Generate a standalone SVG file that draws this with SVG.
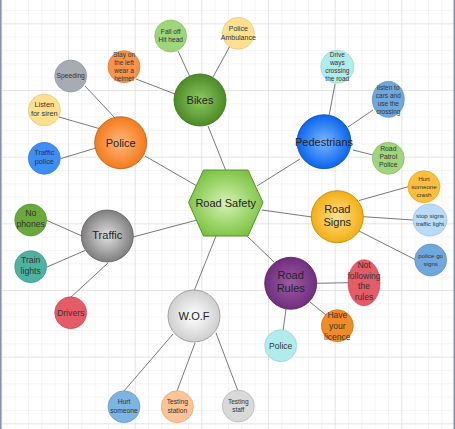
<svg xmlns="http://www.w3.org/2000/svg" width="455" height="429" viewBox="0 0 455 429">
<defs>
<pattern id="gmin" patternUnits="userSpaceOnUse" x="1.333" y="23.333" width="13.333" height="13.333">
<path d="M0 0V13.333M0 0H13.333" stroke="#ececec" stroke-width="1" fill="none"/>
</pattern>
<pattern id="gmaj" patternUnits="userSpaceOnUse" x="1.333" y="23.333" width="66.667" height="66.667">
<path d="M0 0V66.667M0 0H66.667" stroke="#d6d6d6" stroke-width="1" fill="none"/>
</pattern>
<radialGradient id="gHex" cx="50%" cy="50%" r="55%"><stop offset="0" stop-color="#d6f2b4"/><stop offset="1" stop-color="#79c23f"/></radialGradient>
<radialGradient id="gBikes" cx="50%" cy="50%" r="50%"><stop offset="0" stop-color="#8fca62"/><stop offset="1" stop-color="#4c8a27"/></radialGradient>
<radialGradient id="gPolice" cx="50%" cy="50%" r="50%"><stop offset="0" stop-color="#ffb97e"/><stop offset="1" stop-color="#f57a1c"/></radialGradient>
<radialGradient id="gPed" cx="50%" cy="50%" r="50%"><stop offset="0" stop-color="#7ab8ff"/><stop offset="1" stop-color="#0a64ee"/></radialGradient>
<radialGradient id="gSigns" cx="50%" cy="50%" r="50%"><stop offset="0" stop-color="#ffe18a"/><stop offset="1" stop-color="#f3ae12"/></radialGradient>
<radialGradient id="gRules" cx="50%" cy="50%" r="50%"><stop offset="0" stop-color="#9b5aa6"/><stop offset="1" stop-color="#712e7e"/></radialGradient>
<radialGradient id="gTraffic" cx="50%" cy="50%" r="50%"><stop offset="0" stop-color="#e2e2e2"/><stop offset="1" stop-color="#7e7e7e"/></radialGradient>
<radialGradient id="gWof" cx="50%" cy="50%" r="50%"><stop offset="0" stop-color="#ffffff"/><stop offset="1" stop-color="#cfcfcf"/></radialGradient>
</defs>
<style>
.big{font-family:"Liberation Sans",Arial,sans-serif;font-size:11px;fill:#222;text-anchor:middle}
.sm{font-family:"Liberation Sans",Arial,sans-serif;fill:#333;text-anchor:middle}
.edge line{stroke:#555;stroke-width:0.8}
.leaf{stroke-width:0.6}
</style>
<rect width="455" height="429" fill="#ffffff"/>
<rect width="455" height="429" fill="url(#gmin)"/>
<rect width="455" height="429" fill="url(#gmaj)"/>
<rect x="0" y="0" width="1.5" height="429" fill="#8791a8"/>
<rect x="453.5" y="0" width="1.5" height="429" fill="#8791a8"/>

<g id="connectors" class="edge">
<line x1="208" y1="126" x2="226" y2="171"/>
<line x1="257" y1="186" x2="300" y2="159"/>
<line x1="145" y1="156" x2="197" y2="186"/>
<line x1="133" y1="237" x2="197" y2="220"/>
<line x1="216" y1="236" x2="194" y2="291"/>
<line x1="246" y1="235" x2="274" y2="262"/>
<line x1="262" y1="210" x2="312" y2="217"/>
<line x1="136" y1="79" x2="175" y2="94"/>
<line x1="178" y1="51" x2="190" y2="77"/>
<line x1="213" y1="77" x2="230" y2="46"/>
<line x1="85" y1="86" x2="115" y2="118"/>
<line x1="59" y1="117" x2="99" y2="128.5"/>
<line x1="61" y1="158.5" x2="96" y2="148"/>
<line x1="335" y1="84" x2="329" y2="116"/>
<line x1="373" y1="110" x2="348" y2="127"/>
<line x1="353" y1="150" x2="373" y2="155"/>
<line x1="359" y1="200.5" x2="409" y2="186.5"/>
<line x1="363" y1="216.7" x2="413" y2="220"/>
<line x1="359" y1="231" x2="416" y2="260"/>
<line x1="316" y1="283.3" x2="349" y2="282.7"/>
<line x1="310" y1="302" x2="326" y2="315"/>
<line x1="286" y1="309" x2="283" y2="331"/>
<line x1="47" y1="220.5" x2="82" y2="236"/>
<line x1="47" y1="267" x2="85" y2="250.5"/>
<line x1="70" y1="298" x2="108" y2="263"/>
<line x1="124" y1="391" x2="173" y2="334"/>
<line x1="177" y1="391" x2="195" y2="343"/>
<line x1="216" y1="333" x2="238" y2="391"/>
</g>

<g id="road-safety">
<polygon points="188.5,202.5 203.5,170 248,170 263,202.5 248,236 203.5,236" fill="url(#gHex)" stroke="#5b8f33" stroke-width="1" stroke-linejoin="round"/>
<text class="big" x="225.7" y="206.5">Road Safety</text>
</g>

<g id="bikes">
<circle cx="200" cy="100" r="26" fill="url(#gBikes)" stroke="#3d6e1f" stroke-width="0.8"/>
<text class="big" x="200" y="104">Bikes</text>
</g>
<g id="police">
<circle cx="120.7" cy="142.7" r="26" fill="url(#gPolice)" stroke="#b85a12" stroke-width="0.8"/>
<text class="big" x="120.7" y="146.7">Police</text>
</g>
<g id="pedestrians">
<circle cx="324" cy="141.7" r="27" fill="url(#gPed)" stroke="#0a4fba" stroke-width="0.8"/>
<text class="big" x="324" y="145.7">Pedestrians</text>
</g>
<g id="road-signs">
<circle cx="337.3" cy="216.7" r="26" fill="url(#gSigns)" stroke="#b98500" stroke-width="0.8"/>
<text class="big" x="337.3" y="213.3">Road<tspan x="337.3" dy="13">Signs</tspan></text>
</g>
<g id="road-rules">
<circle cx="290.7" cy="283.3" r="26" fill="url(#gRules)" stroke="#4f1d5a" stroke-width="0.8"/>
<text class="big" x="290.7" y="279">Road<tspan x="290.7" dy="13.3">Rules</tspan></text>
</g>
<g id="traffic">
<circle cx="107.3" cy="236" r="26" fill="url(#gTraffic)" stroke="#5e5e5e" stroke-width="0.8"/>
<text class="big" x="107.3" y="239">Traffic</text>
</g>
<g id="wof">
<circle cx="194" cy="316" r="26" fill="url(#gWof)" stroke="#8f8f8f" stroke-width="0.8"/>
<text class="big" x="194" y="319.5">W.O.F</text>
</g>

<g id="stay-left">
<circle class="leaf" cx="124" cy="66.7" r="16" fill="#f8934a" stroke="#d47230"/>
<text class="sm" font-size="6.5" x="124" y="56.6">Stay on<tspan x="124" dy="8.2">the left</tspan><tspan x="124" dy="8.2">wear a</tspan><tspan x="124" dy="8.2">helmet</tspan></text>
</g>
<g id="fall-off">
<circle class="leaf" cx="170.7" cy="36" r="16" fill="#9fd57b" stroke="#7fb35d"/>
<text class="sm" font-size="6.6" x="170.7" y="34.4">Fall off<tspan x="170.7" dy="7.8">Hit head</tspan></text>
</g>
<g id="police-ambulance">
<circle class="leaf" cx="238.3" cy="33.3" r="16" fill="#ffe08f" stroke="#e0bf6a"/>
<text class="sm" font-size="7" x="238.3" y="31">Police<tspan x="238.3" dy="9">Ambulance</tspan></text>
</g>
<g id="speeding">
<circle class="leaf" cx="70.7" cy="76" r="16" fill="#a7abb3" stroke="#8b8f97"/>
<text class="sm" font-size="6.7" x="70.7" y="78.3">Speeding</text>
</g>
<g id="listen-siren">
<circle class="leaf" cx="44.3" cy="110" r="16" fill="#ffe08f" stroke="#e0bf6a"/>
<text class="sm" font-size="7.4" x="44.3" y="107">Listen<tspan x="44.3" dy="9">for siren</tspan></text>
</g>
<g id="traffic-police">
<circle class="leaf" cx="44.3" cy="158.3" r="16" fill="#3d8ef7" stroke="#2a6fd0"/>
<text class="sm" font-size="7.4" x="44.3" y="155.3">Traffic<tspan x="44.3" dy="9">police</tspan></text>
</g>
<g id="drive-ways">
<circle class="leaf" cx="337.3" cy="66.7" r="16.5" fill="#b0ecec" stroke="#8fcaca"/>
<text class="sm" font-size="6.5" x="337.3" y="56.6">Drive<tspan x="337.3" dy="8">ways</tspan><tspan x="337.3" dy="8">crossing</tspan><tspan x="337.3" dy="8">the road</tspan></text>
</g>
<g id="listen-cars">
<ellipse class="leaf" cx="388.3" cy="99.3" rx="16" ry="18" fill="#6fa8dc" stroke="#5087bb"/>
<text class="sm" font-size="6.5" x="388.3" y="89.6">listen to<tspan x="388.3" dy="8">cars and</tspan><tspan x="388.3" dy="8">use the</tspan><tspan x="388.3" dy="8">crossing</tspan></text>
</g>
<g id="road-patrol">
<circle class="leaf" cx="388.3" cy="158.3" r="16" fill="#9fd57b" stroke="#7fb35d"/>
<text class="sm" font-size="6.8" x="388.3" y="151.4">Road<tspan x="388.3" dy="8">Patrol</tspan><tspan x="388.3" dy="8">Police</tspan></text>
</g>
<g id="hurt-crash">
<circle class="leaf" cx="424" cy="186.7" r="16" fill="#fbbf3b" stroke="#d69d22"/>
<text class="sm" font-size="6.2" x="424" y="180.7">Hurt<tspan x="424" dy="8">someone</tspan><tspan x="424" dy="8">crash</tspan></text>
</g>
<g id="stop-signs">
<ellipse class="leaf" cx="430" cy="220" rx="17" ry="16" fill="#b8dcf5" stroke="#8fb5d0"/>
<text class="sm" font-size="6.2" x="430" y="217.8">stop signs<tspan x="430" dy="7.7">traffic light</tspan></text>
</g>
<g id="police-go">
<circle class="leaf" cx="430.7" cy="260" r="16" fill="#6fa8dc" stroke="#5087bb"/>
<text class="sm" font-size="6.2" x="430.7" y="258.3">police go<tspan x="430.7" dy="7.5">signs</tspan></text>
</g>
<g id="not-following">
<ellipse class="leaf" cx="364" cy="282.7" rx="16" ry="23" fill="#e55b68" stroke="#c0404d"/>
<text class="sm" font-size="8.5" x="364" y="268" fill="#333">Not<tspan x="364" dy="10.6">following</tspan><tspan x="364" dy="10.6">the</tspan><tspan x="364" dy="10.6">rules</tspan></text>
</g>
<g id="have-licence">
<circle class="leaf" cx="337.3" cy="325.7" r="16" fill="#f08c23" stroke="#c86d10"/>
<text class="sm" font-size="8.5" x="337.3" y="318">Have<tspan x="337.3" dy="10.8">your</tspan><tspan x="337.3" dy="10.8">licence</tspan></text>
</g>
<g id="police-cyan">
<circle class="leaf" cx="280.7" cy="345.7" r="16" fill="#b0ecec" stroke="#8fcaca"/>
<text class="sm" font-size="8.5" x="280.7" y="348.7">Police</text>
</g>
<g id="testing-staff">
<circle class="leaf" cx="238.3" cy="406" r="16" fill="#d9d9d9" stroke="#a8a8a8"/>
<text class="sm" font-size="6.5" x="238.3" y="404">Testing<tspan x="238.3" dy="8.3">staff</tspan></text>
</g>
<g id="no-phones">
<circle class="leaf" cx="30.7" cy="220" r="16" fill="#6aaa3a" stroke="#4e8a25"/>
<text class="sm" font-size="8.7" x="30.7" y="216.3">No<tspan x="30.7" dy="10.7">phones</tspan></text>
</g>
<g id="train-lights">
<circle class="leaf" cx="30.7" cy="266.7" r="16" fill="#4db3a0" stroke="#338f7e"/>
<text class="sm" font-size="8.7" x="30.7" y="263">Train<tspan x="30.7" dy="11">lights</tspan></text>
</g>
<g id="drivers">
<circle class="leaf" cx="70.7" cy="312.7" r="16" fill="#e55b68" stroke="#c0404d"/>
<text class="sm" font-size="8.7" x="70.7" y="315.8">Drivers</text>
</g>
<g id="hurt-someone">
<circle class="leaf" cx="124" cy="406.7" r="16" fill="#7cb4e2" stroke="#5a91c2"/>
<text class="sm" font-size="6.7" x="124" y="403.6">Hurt<tspan x="124" dy="9">someone</tspan></text>
</g>
<g id="testing-station">
<circle class="leaf" cx="177.3" cy="406.7" r="16" fill="#fcc495" stroke="#d9a071"/>
<text class="sm" font-size="6.7" x="177.3" y="403.6">Testing<tspan x="177.3" dy="9">station</tspan></text>
</g>
</svg>
